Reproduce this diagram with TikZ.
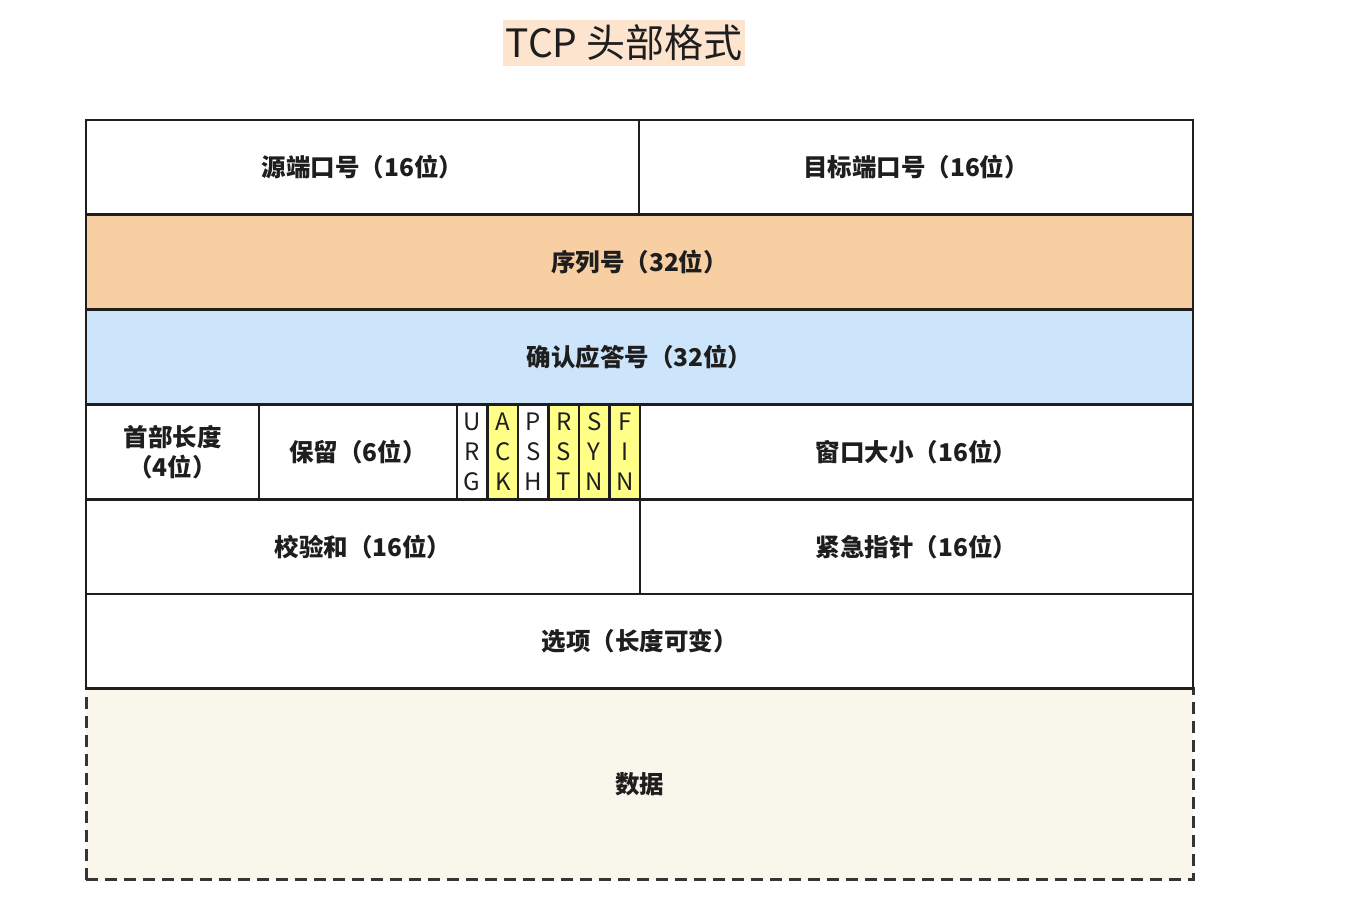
\documentclass[tikz,border=0pt]{standalone}
\usepackage{fontspec}
\setmainfont{Noto Sans CJK SC}
\definecolor{peach}{RGB}{248,206,163}
\definecolor{sky}{RGB}{204,229,251}
\definecolor{flagy}{RGB}{255,255,136}
\definecolor{dataf}{RGB}{249,247,236}
\definecolor{titlebg}{RGB}{253,228,206}
\definecolor{ink}{RGB}{30,30,30}
\begin{document}
\begin{tikzpicture}[x=1pt,y=-1pt,
  cell/.style={draw=ink, line width=2.8pt, inner sep=0pt, minimum height=94.8pt,
    font=\fontsize{24.5}{30}\selectfont\bfseries, align=center, text=ink},
  flag/.style={cell, minimum width=30.5pt, font=\fontsize{24}{30}\selectfont, text=ink},
  datacell/.style={draw=ink!90, line width=3pt, dash pattern=on 12pt off 7pt, fill=dataf,
    inner sep=0pt, font=\fontsize{24.5}{30}\selectfont\bfseries, text=ink}]
\useasboundingbox (0,0) rectangle (1351,913);
\node[fill=titlebg, inner sep=0pt, minimum width=242pt, minimum height=46pt,
  font=\fontsize{39}{42}\selectfont, text=ink] (title) at (624,43) {TCP 头部格式};
% data
\node[datacell, minimum width=1107pt, minimum height=191pt] (data) at (639.5,784.4) {数据};
% row 1
\node[cell, minimum width=553pt] (src) at (362.5,167.4) {源端口号（16位）};
\node[cell, minimum width=554pt] (dst) at (916,167.4) {目标端口号（16位）};
% row 2
\node[cell, fill=peach, minimum width=1107pt] (seq) at (639.5,262.2) {序列号（32位）};
% row 3
\node[cell, fill=sky, minimum width=1107pt] (ack) at (639.5,357) {确认应答号（32位）};
% row 4
\node[cell, minimum width=173pt] (hlen) at (172.5,451.8) {首部长度\\（4位）};
\node[cell, minimum width=198pt] (rsv) at (358,451.8) {保留（6位）};
\node[flag] (urg) at (472.25,451.8) {U\\R\\G};
\node[flag, fill=flagy] (fack) at (502.75,451.8) {A\\C\\K};
\node[flag] (psh) at (533.25,451.8) {P\\S\\H};
\node[flag, fill=flagy] (rst) at (563.75,451.8) {R\\S\\T};
\node[flag, fill=flagy] (syn) at (594.25,451.8) {S\\Y\\N};
\node[flag, fill=flagy] (fin) at (624.75,451.8) {F\\I\\N};
\node[cell, minimum width=553pt] (win) at (916.5,451.8) {窗口大小（16位）};
% row 5
\node[cell, minimum width=554pt] (chk) at (363,546.6) {校验和（16位）};
\node[cell, minimum width=553pt] (urgp) at (916.5,546.6) {紧急指针（16位）};
% row 6
\node[cell, minimum width=1107pt] (opt) at (639.5,641.4) {选项（长度可变）};
\end{tikzpicture}
\end{document}
